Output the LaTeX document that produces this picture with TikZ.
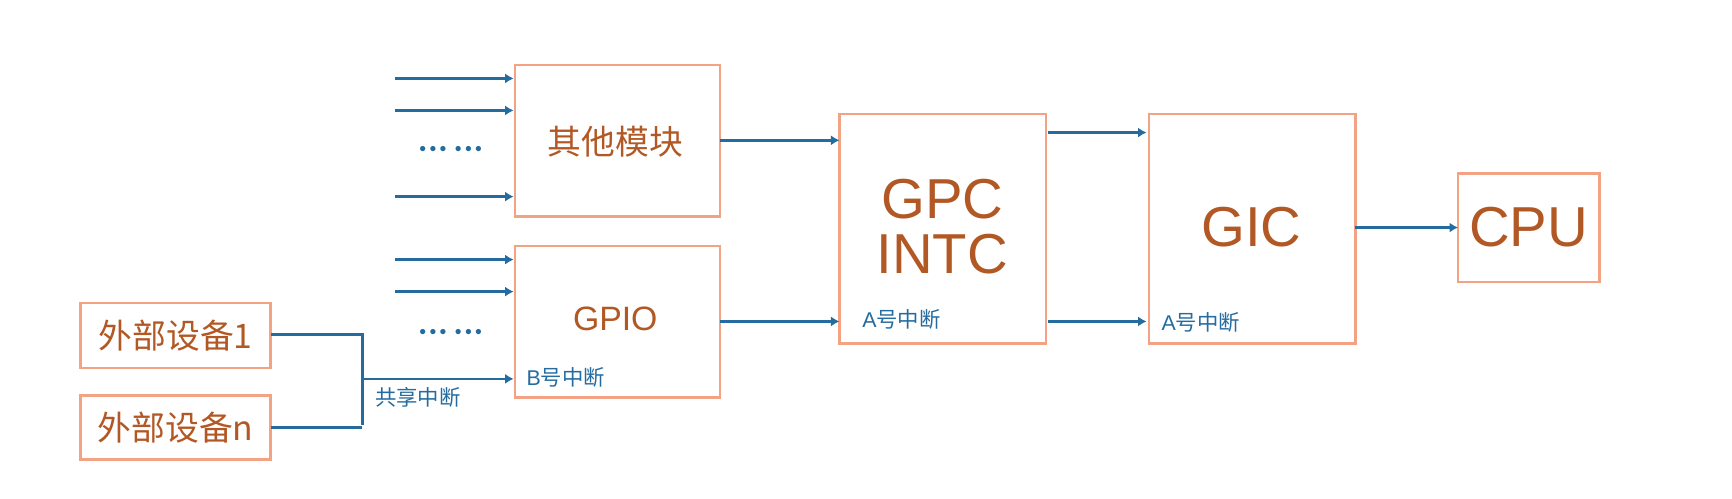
\documentclass[tikz,border=0pt]{standalone}
\usepackage{fontspec}
\setmainfont{Liberation Sans}
\newfontfamily\cjk{Noto Sans CJK SC}
\usetikzlibrary{arrows.meta}
\definecolor{bx}{RGB}{244,162,132}
\definecolor{tx}{RGB}{178,88,36}
\definecolor{ln}{RGB}{36,108,160}
\begin{document}
\begin{tikzpicture}[x=0.01cm,y=-0.01cm,
  bxl/.style={draw=bx,line width=0.6pt},
  big/.style={text=tx,font=\fontsize{14.5}{15}\selectfont,align=center},
  mid/.style={text=tx,font=\fontsize{8.7}{10}\selectfont},
  sm/.style={text=ln,font=\fontsize{5.5}{6}\selectfont,inner sep=0},
  ar/.style={draw=ln,line width=0.7pt,-{Latex[length=2.2pt,width=2.6pt]}},
  wl/.style={draw=ln,line width=0.7pt},
  dots/.style={text=ln,font=\fontsize{5}{6}\selectfont}]
\useasboundingbox (0,0) rectangle (1568,451);
% boxes
\draw[bxl] (73,274) rectangle (245,333);
\draw[bxl] (73,358) rectangle (245,416);
\draw[bxl] (466,59) rectangle (652,196);
\draw[bxl] (466,223) rectangle (652,360);
\draw[bxl] (760,103) rectangle (947,311);
\draw[bxl] (1040,103) rectangle (1227,311);
\draw[bxl] (1320,157) rectangle (1448,255);
% texts
\node[mid] (t1) at (159,304) {\cjk 外部设备1};
\node[mid] (tn) at (159,387) {\cjk 外部设备n};
\node[mid] (oth) at (557,128) {\cjk 其他模块};
\node[mid] (gpio) at (557,289) {GPIO};
\node[big] (gpc) at (853,205) {GPC\\[-1pt]INTC};
\node[big] (gic) at (1133,206) {GIC};
\node[big] (cpu) at (1384,206) {CPU};
\node[sm,anchor=west] (b) at (476,342) {B{\cjk 号中断}};
\node[sm,anchor=west] (a1) at (780,289) {A{\cjk 号中断}};
\node[sm,anchor=west] (a2) at (1051,292) {A{\cjk 号中断}};
\node[sm,anchor=west] (sh) at (339,360) {\cjk 共享中断};
\node[dots] (d1) at (408,137) {\textbullet\,\textbullet\,\textbullet\;\,\textbullet\,\textbullet\,\textbullet};
\node[dots] (d2) at (408,302) {\textbullet\,\textbullet\,\textbullet\;\,\textbullet\,\textbullet\,\textbullet};
% connectors
\coordinate (j1) at (328,303); \coordinate (j2) at (328,387); \coordinate (j3) at (328,343);
\coordinate (ja) at (328,385);
\draw[wl] (245,303) -- (j1) -- (ja);
\draw[wl] (245,387) -- (j2);
\draw[ar] (j3) -- (465,343);
\foreach \y in {71,100,178} \draw[ar] (358,\y) -- (465,\y);
\foreach \y in {235,264} \draw[ar] (358,\y) -- (465,\y);
\draw[ar] (652,127) -- (760,127);
\draw[ar] (652,291) -- (760,291);
\draw[ar] (949,120) -- (1038,120);
\draw[ar] (949,291) -- (1038,291);
\draw[ar] (1227,206) -- (1320,206);
\end{tikzpicture}
\end{document}
